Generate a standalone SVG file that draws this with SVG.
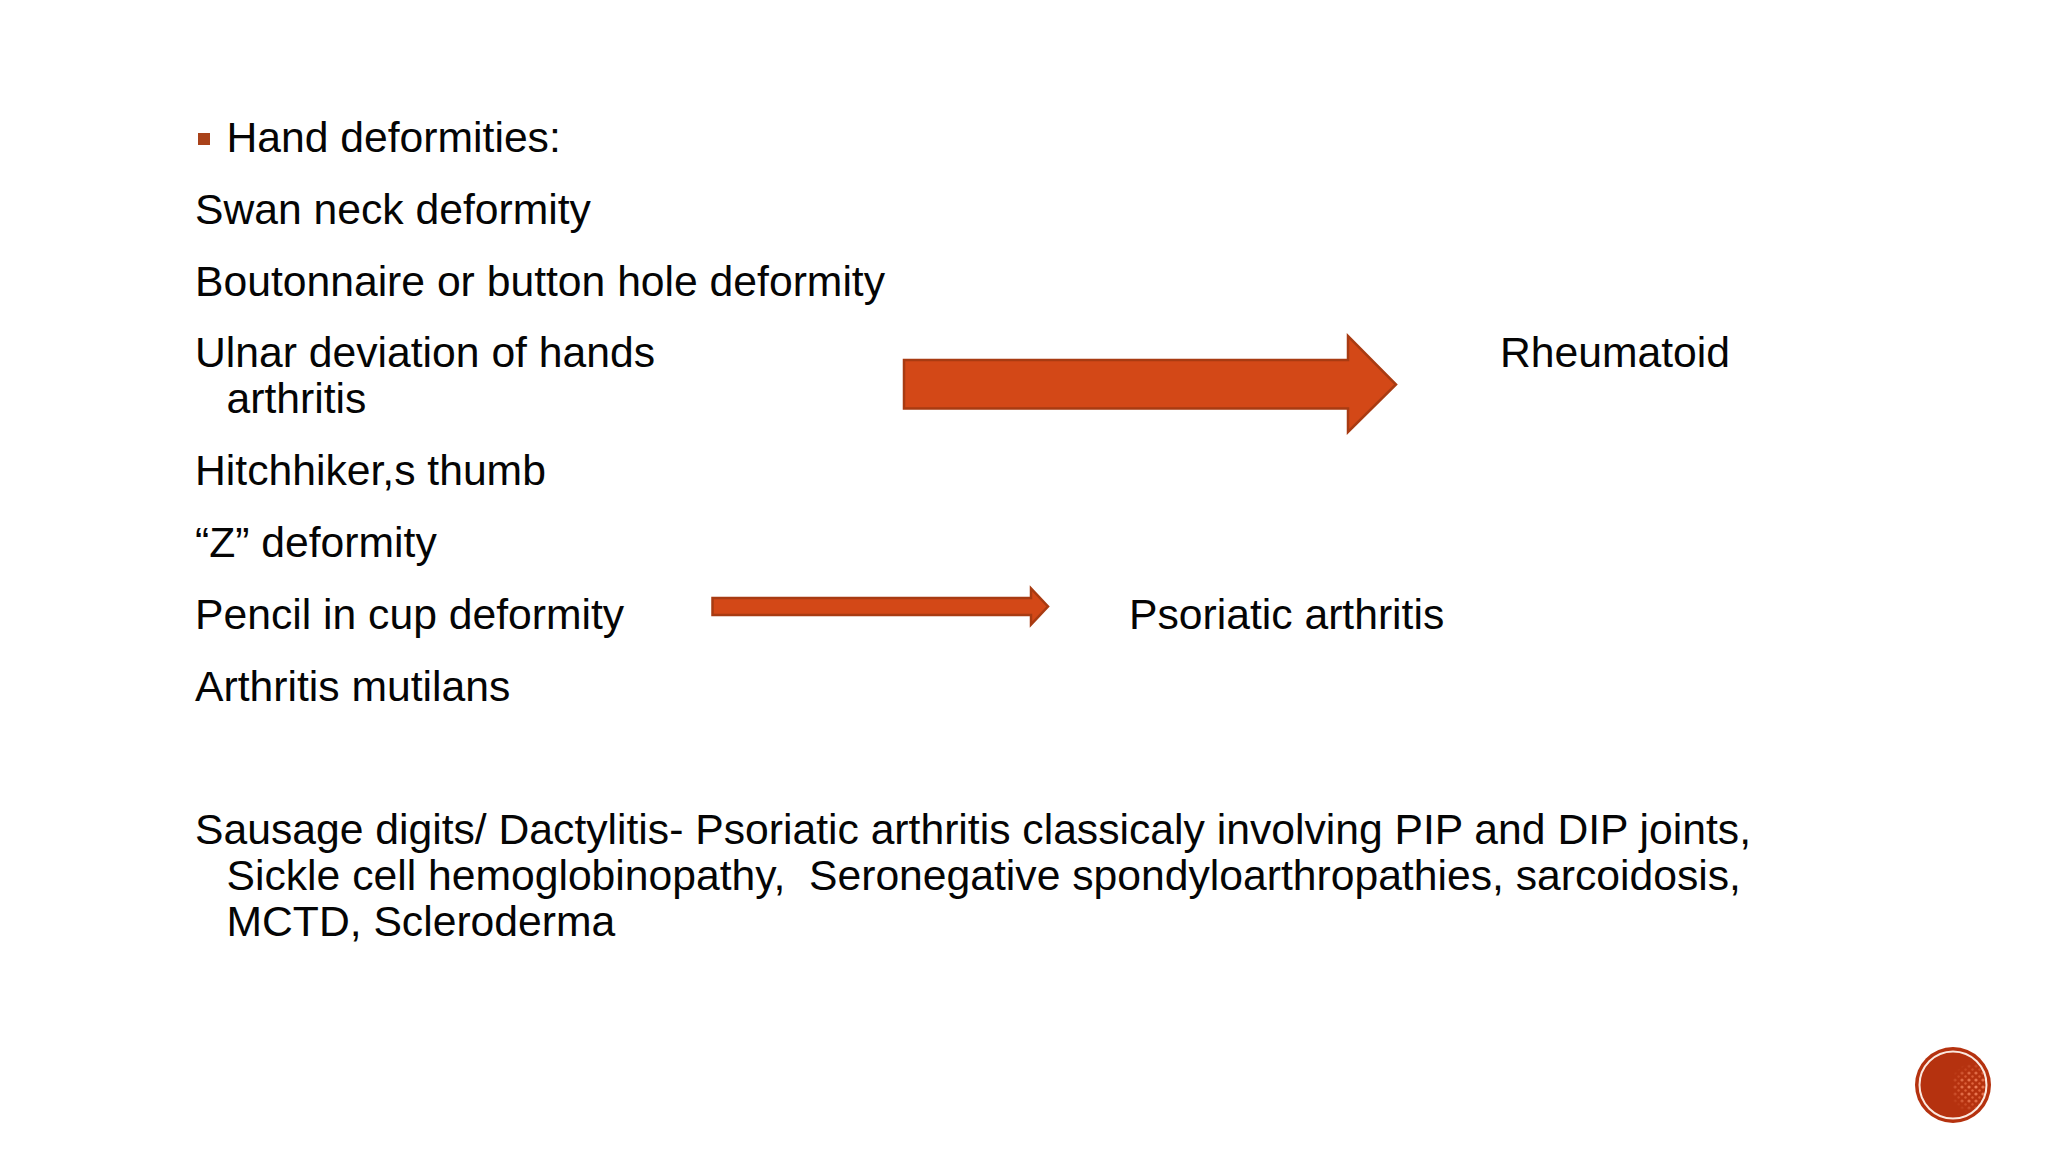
<svg xmlns="http://www.w3.org/2000/svg" width="2048" height="1152" viewBox="0 0 2048 1152">
<style>
text{font-family:"Liberation Sans",Arial,sans-serif;font-size:42.67px;fill:#050505;white-space:pre}
.arrow{fill:#d34817;stroke:#a83b12;stroke-width:2.5}
</style>
<defs>
<radialGradient id="glow" gradientUnits="userSpaceOnUse" cx="1975" cy="1088" r="26"><stop offset="0" stop-color="#fff" stop-opacity="1"/><stop offset="0.6" stop-color="#fff" stop-opacity="0.7"/><stop offset="1" stop-color="#fff" stop-opacity="0"/></radialGradient>
<mask id="glowMask"><rect x="1900" y="1030" width="120" height="120" fill="url(#glow)"/></mask>
<pattern id="speckle" patternUnits="userSpaceOnUse" width="7" height="7"><circle cx="2" cy="2" r="1.6" fill="#f0805a"/><circle cx="5.5" cy="5.5" r="1.2" fill="#e56a42"/></pattern>
<clipPath id="inner"><circle cx="1953" cy="1085" r="33"/></clipPath>
</defs>
<rect width="2048" height="1152" fill="#fff"/>
<g id="list">
<rect id="bullet" x="198" y="133" width="12" height="12" fill="#a9421a"/>
<text x="226.5" y="152">Hand deformities:</text>
<text x="195" y="224">Swan neck deformity</text>
<text x="195" y="296">Boutonnaire or button hole deformity</text>
<text x="195" y="367">Ulnar deviation of hands</text>
<text x="226.5" y="413">arthritis</text>
<text x="195" y="485">Hitchhiker,s thumb</text>
<text x="195" y="557">“Z” deformity</text>
<text x="195" y="629">Pencil in cup deformity</text>
<text x="195" y="701">Arthritis mutilans</text>
</g>
<g id="rheumatoid"><text x="1500" y="367">Rheumatoid</text></g>
<g id="psoriatic"><text x="1129" y="629">Psoriatic arthritis</text></g>
<g id="sausage">
<text x="195" y="844">Sausage digits/ Dactylitis- Psoriatic arthritis classicaly involving PIP and DIP joints,</text>
<text x="226.5" y="890">Sickle cell hemoglobinopathy,  Seronegative spondyloarthropathies, sarcoidosis,</text>
<text x="226.5" y="936">MCTD, Scleroderma</text>
</g>
<g id="connectors">
<polygon class="arrow" points="904,360 1348,360 1348,336 1396,384.5 1348,432 1348,408.5 904,408.5"/>
<polygon class="arrow" points="712.5,598 1031,598 1031,588.5 1048,606.5 1031,624.5 1031,615 712.5,615"/>
</g>
<g id="badge">
<circle cx="1953" cy="1085" r="38" fill="#b5320f"/>
<g clip-path="url(#inner)"><rect x="1953" y="1050" width="36" height="70" fill="url(#speckle)" mask="url(#glowMask)"/></g>
<circle cx="1953" cy="1085" r="33.5" fill="none" stroke="#fbe9e0" stroke-width="2"/>
</g>
</svg>
